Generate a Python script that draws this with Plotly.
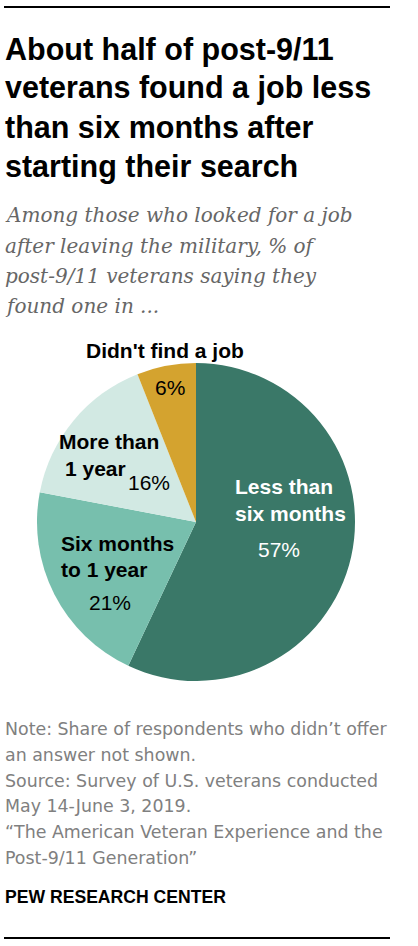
import plotly.graph_objects as go

W, H = 418, 946

categories = ["Less than six months", "Six months to 1 year", "More than 1 year", "Didn't find a job"]
shares = [57, 21, 16, 6]
slice_colors = ["#3a7868", "#77bfad", "#d2e9e3", "#d4a32f"]

title_lines = ["About half of post-9/11", "veterans found a job less",
               "than six months after", "starting their search"]
subtitle_lines = ["Among those who looked for a job", "after leaving the military, % of",
                  "post-9/11 veterans saying they", "found one in ..."]
note_lines = ["Note: Share of respondents who didn\u2019t offer", "an answer not shown.",
              "Source: Survey of U.S. veterans conducted", "May 14-June 3, 2019.",
              "\u201cThe American Veteran Experience and the", "Post-9/11 Generation\u201d"]


def px_x(x):
    return x / W


def px_y(y):
    return 1 - y / H


# pie placement, in pixels
cx, cy, r = 196, 522, 159

fig = go.Figure(go.Pie(
    labels=categories, values=shares, sort=False, direction="clockwise",
    rotation=0, marker=dict(colors=slice_colors, line=dict(width=0)),
    textinfo="none", hoverinfo="label+percent", showlegend=False,
    domain=dict(x=[px_x(cx - r), px_x(cx + r)], y=[px_y(cy + r), px_y(cy - r)]),
))

ann = []
BOLD = "Liberation Sans"


def add(text, x, y, size, color="#000", family=BOLD, anchor="left", bold=False, italic=False):
    if bold:
        text = "<b>" + text + "</b>"
    if italic:
        text = "<i>" + text + "</i>"
    ann.append(dict(text=text, x=px_x(x), y=px_y(y), xref="paper", yref="paper",
                    xanchor=anchor, yanchor="middle", showarrow=False,
                    font=dict(size=size, color=color, family=family)))


for i, t in enumerate(title_lines):
    add(t, 3, 49 + i * 39, 30.5, bold=True)

for i, t in enumerate(subtitle_lines):
    add(t, 3, 215 + i * 30.5, 20, color="#666666", family="DejaVu Serif", italic=True)

# slice labels
lbl = 21
add("Didn't find a job", 165, 350, lbl, anchor="center", bold=True)
add(f"{shares[3]}%", 170, 387, lbl, anchor="center")
add("More than", 57, 442, lbl, bold=True)
add("1 year", 63, 468, lbl, bold=True)
add(f"{shares[2]}%", 149, 482, lbl, anchor="center")
add("Less than", 233, 487, lbl, color="#ffffff", bold=True)
add("six months", 233, 513, lbl, color="#ffffff", bold=True)
add(f"{shares[0]}%", 279, 549, lbl, color="#ffffff", anchor="center")
add("Six months", 59, 543, lbl, bold=True)
add("to 1 year", 59, 569, lbl, bold=True)
add(f"{shares[1]}%", 110, 602, lbl, anchor="center")

for i, t in enumerate(note_lines):
    add(t, 3, 729 + i * 25.8, 17.4, color="#808080", family="DejaVu Sans")

add("PEW RESEARCH CENTER", 3, 897, 17.6, bold=True)

fig.update_layout(
    width=W, height=H, margin=dict(l=0, r=0, t=0, b=0),
    paper_bgcolor="#ffffff", plot_bgcolor="#ffffff",
    annotations=ann,
    shapes=[
        dict(type="line", xref="paper", yref="paper", x0=px_x(4), x1=px_x(390),
             y0=px_y(7), y1=px_y(7), line=dict(color="#000", width=2)),
        dict(type="line", xref="paper", yref="paper", x0=px_x(4), x1=px_x(390),
             y0=px_y(938), y1=px_y(938), line=dict(color="#000", width=2)),
    ],
)

# page body has a default 8px margin; drop it so the figure sits at the corner
fig.write_html("out.html", config={"displayModeBar": False},
               post_script="document.body.style.margin='0';")
